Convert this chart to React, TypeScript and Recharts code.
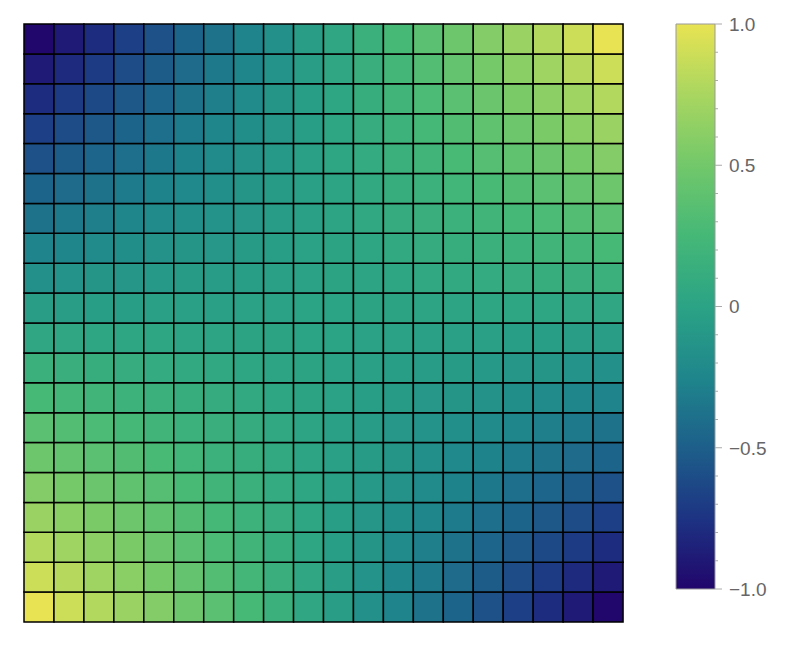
import { BarChart, Bar, XAxis, YAxis, Cell } from 'recharts';

// column categories (left to right)
const columns = ['1', '2', '3', '4', '5', '6', '7', '8', '9', '10', '11', '12', '13', '14', '15', '16', '17', '18', '19', '20'];

// cell values, top row first
const row01 = [-1.0, -0.89, -0.79, -0.68, -0.58, -0.47, -0.37, -0.26, -0.16, -0.05, 0.05, 0.16, 0.26, 0.37, 0.47, 0.58, 0.68, 0.79, 0.89, 1.0];
const row02 = [-0.89, -0.8, -0.71, -0.61, -0.52, -0.42, -0.33, -0.24, -0.14, -0.05, 0.05, 0.14, 0.24, 0.33, 0.42, 0.52, 0.61, 0.71, 0.8, 0.89];
const row03 = [-0.79, -0.71, -0.62, -0.54, -0.46, -0.37, -0.29, -0.21, -0.12, -0.04, 0.04, 0.12, 0.21, 0.29, 0.37, 0.46, 0.54, 0.62, 0.71, 0.79];
const row04 = [-0.68, -0.61, -0.54, -0.47, -0.4, -0.32, -0.25, -0.18, -0.11, -0.04, 0.04, 0.11, 0.18, 0.25, 0.32, 0.4, 0.47, 0.54, 0.61, 0.68];
const row05 = [-0.58, -0.52, -0.46, -0.4, -0.34, -0.27, -0.21, -0.15, -0.09, -0.03, 0.03, 0.09, 0.15, 0.21, 0.27, 0.34, 0.4, 0.46, 0.52, 0.58];
const row06 = [-0.47, -0.42, -0.37, -0.32, -0.27, -0.22, -0.17, -0.12, -0.07, -0.02, 0.02, 0.07, 0.12, 0.17, 0.22, 0.27, 0.32, 0.37, 0.42, 0.47];
const row07 = [-0.37, -0.33, -0.29, -0.25, -0.21, -0.17, -0.14, -0.1, -0.06, -0.02, 0.02, 0.06, 0.1, 0.14, 0.17, 0.21, 0.25, 0.29, 0.33, 0.37];
const row08 = [-0.26, -0.24, -0.21, -0.18, -0.15, -0.12, -0.1, -0.07, -0.04, -0.01, 0.01, 0.04, 0.07, 0.1, 0.12, 0.15, 0.18, 0.21, 0.24, 0.26];
const row09 = [-0.16, -0.14, -0.12, -0.11, -0.09, -0.07, -0.06, -0.04, -0.02, -0.01, 0.01, 0.02, 0.04, 0.06, 0.07, 0.09, 0.11, 0.12, 0.14, 0.16];
const row10 = [-0.05, -0.05, -0.04, -0.04, -0.03, -0.02, -0.02, -0.01, -0.01, 0.0, 0.0, 0.01, 0.01, 0.02, 0.02, 0.03, 0.04, 0.04, 0.05, 0.05];
const row11 = [0.05, 0.05, 0.04, 0.04, 0.03, 0.02, 0.02, 0.01, 0.01, 0.0, 0.0, -0.01, -0.01, -0.02, -0.02, -0.03, -0.04, -0.04, -0.05, -0.05];
const row12 = [0.16, 0.14, 0.12, 0.11, 0.09, 0.07, 0.06, 0.04, 0.02, 0.01, -0.01, -0.02, -0.04, -0.06, -0.07, -0.09, -0.11, -0.12, -0.14, -0.16];
const row13 = [0.26, 0.24, 0.21, 0.18, 0.15, 0.12, 0.1, 0.07, 0.04, 0.01, -0.01, -0.04, -0.07, -0.1, -0.12, -0.15, -0.18, -0.21, -0.24, -0.26];
const row14 = [0.37, 0.33, 0.29, 0.25, 0.21, 0.17, 0.14, 0.1, 0.06, 0.02, -0.02, -0.06, -0.1, -0.14, -0.17, -0.21, -0.25, -0.29, -0.33, -0.37];
const row15 = [0.47, 0.42, 0.37, 0.32, 0.27, 0.22, 0.17, 0.12, 0.07, 0.02, -0.02, -0.07, -0.12, -0.17, -0.22, -0.27, -0.32, -0.37, -0.42, -0.47];
const row16 = [0.58, 0.52, 0.46, 0.4, 0.34, 0.27, 0.21, 0.15, 0.09, 0.03, -0.03, -0.09, -0.15, -0.21, -0.27, -0.34, -0.4, -0.46, -0.52, -0.58];
const row17 = [0.68, 0.61, 0.54, 0.47, 0.4, 0.32, 0.25, 0.18, 0.11, 0.04, -0.04, -0.11, -0.18, -0.25, -0.32, -0.4, -0.47, -0.54, -0.61, -0.68];
const row18 = [0.79, 0.71, 0.62, 0.54, 0.46, 0.37, 0.29, 0.21, 0.12, 0.04, -0.04, -0.12, -0.21, -0.29, -0.37, -0.46, -0.54, -0.62, -0.71, -0.79];
const row19 = [0.89, 0.8, 0.71, 0.61, 0.52, 0.42, 0.33, 0.24, 0.14, 0.05, -0.05, -0.14, -0.24, -0.33, -0.42, -0.52, -0.61, -0.71, -0.8, -0.89];
const row20 = [1.0, 0.89, 0.79, 0.68, 0.58, 0.47, 0.37, 0.26, 0.16, 0.05, -0.05, -0.16, -0.26, -0.37, -0.47, -0.58, -0.68, -0.79, -0.89, -1.0];

const rows = [row01, row02, row03, row04, row05, row06, row07, row08, row09, row10,
    row11, row12, row13, row14, row15, row16, row17, row18, row19, row20];

// legend ticks (labels only on the 0.5 steps)
const legendTicks = [-1, -0.9, -0.8, -0.7, -0.6, -0.5, -0.4, -0.3, -0.2, -0.1, 0, 0.1, 0.2, 0.3, 0.4, 0.5, 0.6, 0.7, 0.8, 0.9, 1];
const legendLabels = [-1, -0.5, 0, 0.5, 1];
const legendRange = [-1, 1];

// colour scale stops, value -> colour
const stops: [number, string][] = [
    [-1.0, '#21066b'],
    [-0.75, '#1d3383'],
    [-0.5, '#1d5f8a'],
    [-0.25, '#1f868c'],
    [0.0, '#2ba385'],
    [0.25, '#45b877'],
    [0.5, '#72c86a'],
    [0.75, '#a9d660'],
    [1.0, '#e8e352'],
];

const hex = (c: string) => [1, 3, 5].map((i) => parseInt(c.slice(i, i + 2), 16));

function colorAt(v: number) {
    if (v <= stops[0][0]) return stops[0][1];
    for (let k = 1; k < stops.length; k++) {
        const [v1, c1] = stops[k];
        if (v <= v1) {
            const [v0, c0] = stops[k - 1];
            const t = (v - v0) / (v1 - v0);
            const a = hex(c0);
            const b = hex(c1);
            const m = a.map((x, i) => Math.round(x + (b[i] - x) * t));
            return `rgb(${m[0]},${m[1]},${m[2]})`;
        }
    }
    return stops[stops.length - 1][1];
}

// each cell is one stacked unit in its column
const gridData = columns.map((col) => {
    const d: Record<string, string | number> = { col };
    rows.forEach((_, i) => {
        d[`r${i}`] = 1;
    });
    return d;
});

const legendData = [{ name: 'legend', span: legendRange }];

const LEGEND_W = 784;
const LEGEND_MR = 17;
const LEGEND_AXIS_W = 60;
const barRight = LEGEND_W - LEGEND_MR - LEGEND_AXIS_W;

function LegendTick(props: any) {
    const { y, payload } = props;
    const v = payload.value as number;
    const major = legendLabels.some((l) => Math.abs(l - v) < 1e-6);
    const label = Math.abs(v) < 1e-6 ? '0' : v < 0 ? `\u2212${Math.abs(v).toFixed(1)}` : v.toFixed(1);
    return (
        <g>
            <line x1={barRight} x2={barRight + (major ? 7 : 3)} y1={y} y2={y} stroke="#aaa" strokeWidth={1} />
            {major && (
                <text x={barRight + 14} y={y} dy="0.36em" fill="#666" fontSize={19} fontFamily="'Liberation Sans', Arial, sans-serif">
                    {label}
                </text>
            )}
        </g>
    );
}

export default function App() {
    return (
        <div style={{ position: 'relative', width: 784, height: 655, background: '#fff' }}>
            <div style={{ position: 'absolute', left: 0, top: 0 }}>
                <BarChart
                    width={640}
                    height={640}
                    data={gridData}
                    margin={{ top: 16, left: 16, right: 25, bottom: 26 }}
                    barCategoryGap={0}
                    barGap={0}
                >
                    <XAxis dataKey="col" hide />
                    <YAxis type="number" domain={[0, 20]} hide />
                    {rows
                        .map((vals, i) => (
                            <Bar
                                key={i}
                                dataKey={`r${i}`}
                                stackId="grid"
                                isAnimationActive={false}
                                stroke="#000"
                                strokeWidth={1.5}
                            >
                                {vals.map((v, j) => (
                                    <Cell key={j} fill={colorAt(v)} />
                                ))}
                            </Bar>
                        ))
                        .reverse()}
                </BarChart>
            </div>
            <div style={{ position: 'absolute', left: 0, top: 0 }}>
                <BarChart
                    width={LEGEND_W}
                    height={640}
                    data={legendData}
                    margin={{ top: 16, left: 668, right: LEGEND_MR, bottom: 59 }}
                    barCategoryGap={0}
                >
                    <defs>
                        <linearGradient id="legendFill" x1="0" y1="1" x2="0" y2="0">
                            {stops.map(([v, c]) => (
                                <stop key={v} offset={`${((v + 1) / 2) * 100}%`} stopColor={c} />
                            ))}
                        </linearGradient>
                    </defs>
                    <XAxis dataKey="name" hide />
                    <YAxis
                        type="number"
                        orientation="right"
                        domain={[-1, 1]}
                        ticks={legendTicks}
                        interval={0}
                        width={LEGEND_AXIS_W}
                        axisLine={false}
                        tickLine={false}
                        tick={<LegendTick />}
                    />
                    <Bar dataKey="span" fill="url(#legendFill)" stroke="#999" strokeWidth={1} isAnimationActive={false} />
                </BarChart>
            </div>
        </div>
    );
}
